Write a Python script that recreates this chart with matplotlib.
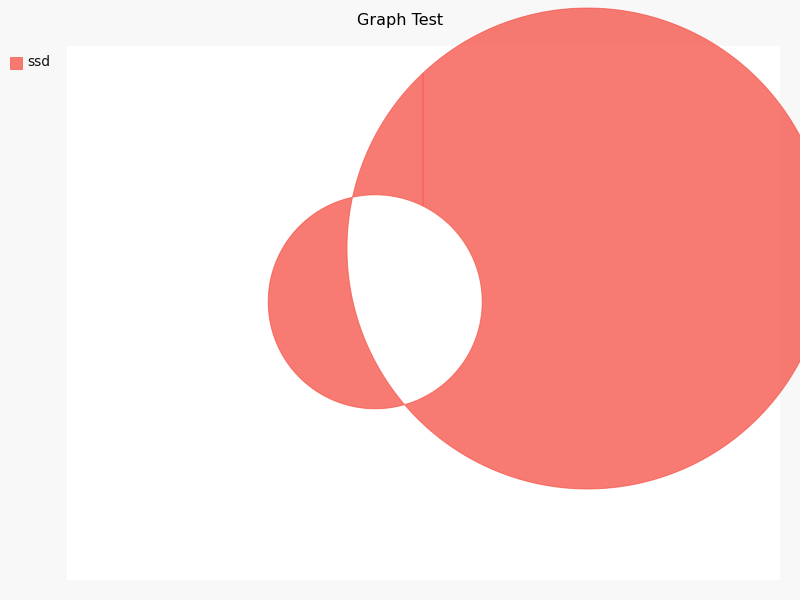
import numpy as np
import matplotlib
matplotlib.use("Agg")
import matplotlib.pyplot as plt
from matplotlib.path import Path
from matplotlib.patches import PathPatch, Rectangle

# ---- data (chart units; plot range x 0..713, y 0..534) ----
series_name = "ssd"
circle_x = [520.5, 308.2]
circle_y = [331.5, 278.2]
circle_r = [240.5, 107.0]
join_x = 356.0          # x where the outline jumps from one circle to the other
title = "Graph Test"

X_MAX, Y_MAX = 713, 534
FILL = (0.957, 0.263, 0.212, 0.7)
EDGE = (0.957, 0.263, 0.212, 0.6)

fig = plt.figure(figsize=(8, 6), dpi=100, facecolor="#f8f8f8")
ax = fig.add_axes([67/800, 1 - 580/600, 713/800, 534/600])
ax.set_facecolor("white")
ax.set_xlim(0, X_MAX)
ax.set_ylim(0, Y_MAX)
for s in ax.spines.values():
    s.set_visible(False)
ax.set_xticks([]); ax.set_yticks([])

# one compound outline: big circle (ccw), jump, small circle (cw)
def circle_pts(cx, cy, r, start, direction, n=400):
    t = start + direction * np.linspace(0, 2 * np.pi, n)
    return np.column_stack([cx + r * np.cos(t), cy + r * np.sin(t)])

cx0, cy0, r0 = circle_x[0], circle_y[0], circle_r[0]
cx1, cy1, r1 = circle_x[1], circle_y[1], circle_r[1]
a0 = np.arctan2(np.sqrt(r0**2 - (join_x - cx0)**2), join_x - cx0)
a1 = np.arctan2(np.sqrt(r1**2 - (join_x - cx1)**2), join_x - cx1)
p0 = circle_pts(cx0, cy0, r0, a0, 1)
p1 = circle_pts(cx1, cy1, r1, a1, -1)
verts = np.vstack([p0, p1])
codes = [Path.MOVETO] + [Path.LINETO] * (len(verts) - 1)
ax.add_patch(PathPatch(Path(verts, codes), facecolor=FILL, edgecolor="none",
                       clip_on=False, zorder=2))
ax.add_patch(PathPatch(Path(verts, codes), facecolor="none", edgecolor=EDGE,
                       linewidth=0.7, clip_on=False, zorder=3))

fig.text(400/800, 1 - 20/600, title, ha="center", va="center",
         fontsize=11.5, color="#000000", family="DejaVu Sans")

# legend
fig.patches.append(Rectangle((10/800, 1 - 69/600), 12/800, 12/600,
                             transform=fig.transFigure, figure=fig,
                             facecolor=FILL, edgecolor=EDGE, linewidth=0.7))
fig.text(27/800, 1 - 62.5/600, series_name, ha="left", va="center",
         fontsize=10, color="#111111", family="DejaVu Sans")

fig.savefig("out.png", dpi=100, facecolor=fig.get_facecolor())
